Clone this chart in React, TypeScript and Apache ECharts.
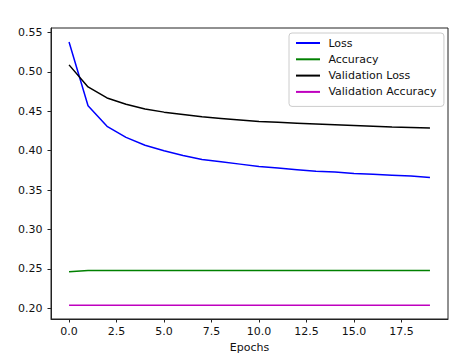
import React, { useEffect, useRef } from "react";
import * as echarts from "echarts";

const epochs = [0, 1, 2, 3, 4, 5, 6, 7, 8, 9, 10, 11, 12, 13, 14, 15, 16, 17, 18, 19];
const loss = [0.538, 0.457, 0.431, 0.417, 0.407, 0.4, 0.394, 0.389, 0.386, 0.383, 0.38, 0.378, 0.376, 0.374, 0.373, 0.371, 0.37, 0.369, 0.368, 0.366];
const accuracy = [0.2465, 0.248, 0.248, 0.248, 0.248, 0.248, 0.248, 0.248, 0.248, 0.248, 0.248, 0.248, 0.248, 0.248, 0.248, 0.248, 0.248, 0.248, 0.248, 0.248];
const valLoss = [0.509, 0.481, 0.467, 0.459, 0.453, 0.449, 0.446, 0.443, 0.441, 0.439, 0.437, 0.436, 0.435, 0.434, 0.433, 0.432, 0.431, 0.43, 0.4295, 0.429];
const valAccuracy = [0.204, 0.204, 0.204, 0.204, 0.204, 0.204, 0.204, 0.204, 0.204, 0.204, 0.204, 0.204, 0.204, 0.204, 0.204, 0.204, 0.204, 0.204, 0.204, 0.204];
const xTicks = [0, 2.5, 5, 7.5, 10, 12.5, 15, 17.5];
const yTicks = [0.2, 0.25, 0.3, 0.35, 0.4, 0.45, 0.5, 0.55];

const FONT = "DejaVu Sans";
const FS = 11;

export default function App() {
  const ref = useRef<HTMLDivElement>(null);
  useEffect(() => {
    if (!ref.current) return;
    const chart = echarts.init(ref.current, null, { renderer: "svg" });
    const mk = (name: string, data: number[], color: string) => ({
      name,
      type: "line",
      data: epochs.map((e, i) => [e, data[i]]),
      symbol: "none",
      lineStyle: { color, width: 1.5 },
      itemStyle: { color },
    });
    chart.setOption({
      animation: false,
      backgroundColor: "#fff",
      textStyle: { fontFamily: FONT },
      grid: {
        left: 51,
        top: 28,
        width: 397,
        height: 291,
        show: true,
        borderColor: "#222",
        borderWidth: 1,
        backgroundColor: "transparent",
      },
      xAxis: {
        type: "value",
        min: -0.95,
        max: 19.95,
        name: "Epochs",
        nameLocation: "middle",
        nameGap: 21,
        nameTextStyle: { color: "#111", fontSize: FS, fontFamily: FONT },
        splitLine: { show: false },
        axisLine: { show: true, onZero: false, lineStyle: { color: "#222", width: 1 } },
        axisTick: { show: true, inside: false, length: 3.5, customValues: xTicks, lineStyle: { color: "#222" } },
        axisLabel: {
          show: true,
          margin: 7,
          color: "#111",
          fontSize: FS,
          fontFamily: FONT,
          customValues: xTicks,
          formatter: (v: number) => v.toFixed(1),
        },
      },
      yAxis: {
        type: "value",
        min: 0.1864,
        max: 0.5558,
        splitLine: { show: false },
        axisLine: { show: true, onZero: false, lineStyle: { color: "#222", width: 1 } },
        axisTick: { show: true, inside: false, length: 3.5, customValues: yTicks, lineStyle: { color: "#222" } },
        axisLabel: {
          show: true,
          margin: 8.5,
          color: "#111",
          fontSize: FS,
          fontFamily: FONT,
          customValues: yTicks,
          formatter: (v: number) => v.toFixed(2),
        },
      },
      legend: {
        left: 289,
        top: 33,
        orient: "vertical",
        itemWidth: 24,
        itemHeight: 10,
        itemGap: 5.3,
        padding: [4.5, 7.5, 9, 6],
        backgroundColor: "rgba(255,255,255,0.8)",
        borderColor: "#cccccc",
        borderWidth: 1,
        borderRadius: 3,
        itemStyle: { opacity: 0 },
        textStyle: { color: "#111", fontSize: FS, fontFamily: FONT, padding: [0, 0, 0, 3.4] },
        data: ["Loss", "Accuracy", "Validation Loss", "Validation Accuracy"],
      },
      series: [
        mk("Loss", loss, "#0000ff"),
        mk("Accuracy", accuracy, "#008000"),
        mk("Validation Loss", valLoss, "#000000"),
        mk("Validation Accuracy", valAccuracy, "#bf00bf"),
      ],
    });
    return () => chart.dispose();
  }, []);
  return <div ref={ref} style={{ position: "fixed", left: 0, top: 0, width: 474, height: 360 }} />;
}
